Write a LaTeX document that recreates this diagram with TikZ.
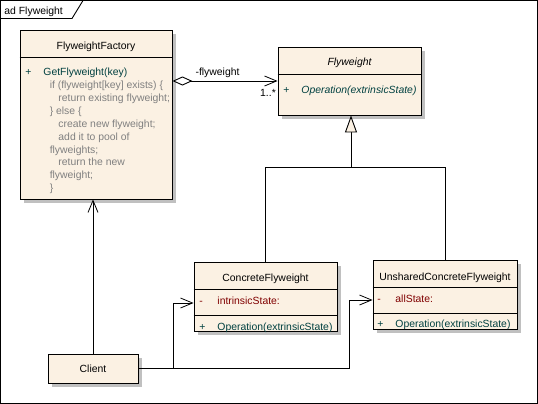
\documentclass[tikz,border=0pt]{standalone}
\usepackage{fontspec}
\setmainfont{Liberation Sans}
\usetikzlibrary{arrows.meta,shadows}
\definecolor{clsfill}{RGB}{251,241,227}
\definecolor{shadowgray}{RGB}{192,192,192}
\definecolor{optext}{RGB}{0,64,64}
\definecolor{attrtext}{RGB}{128,0,0}
\definecolor{codetext}{RGB}{128,128,128}
\begin{document}
\begin{tikzpicture}[x=1pt,y=-1pt,
  font=\fontsize{10.4}{12}\selectfont,
  line width=0.9pt,
  cls/.style={draw=black, fill=clsfill, rectangle, inner sep=0pt, line width=0.9pt,
    drop shadow={shadow xshift=4pt, shadow yshift=-4pt, fill=shadowgray, opacity=1}},
  txt/.style={anchor=base west, inner sep=0pt},
  ctr/.style={anchor=base, inner sep=0pt},
  op/.style={txt, text=optext},
  attr/.style={txt, text=attrtext},
  code/.style={txt, text=codetext},
  assoc/.style={-{Straight Barb[length=12pt,width=10pt,line width=0.8pt]}},
  agg/.style={{Diamond[open,length=20pt,width=9pt,fill=white]}-{Straight Barb[length=12pt,width=10pt,line width=0.8pt]}},
  gen/.style={-{Triangle[open,length=17pt,width=12pt,fill=clsfill]}}]
\useasboundingbox (0,0) rectangle (538,404);
% frame
\draw[line width=0.9pt] (0.5,0.5) rectangle (537,403.5);
\draw[line width=0.9pt] (0.5,18.5) -- (72,18.5) -- (83,0.5);
\node[txt] (title) at (4,14.5) {ad Flyweight};

% FlyweightFactory
\node[cls, minimum width=152pt, minimum height=169pt] (ff) at (96,114.5) {};
\draw (ff.west |- 0,57) -- (ff.east |- 0,57);
\node[ctr] (fft) at (96,49.5) {FlyweightFactory};
\node[op] (ffp) at (25,75.5) {+};
\node[op] (ffo) at (43,75.5) {GetFlyweight(key)};
\node[code] (c1) at (49.3,88.5) {if (flyweight[key] exists) \{};
\node[code] (c2) at (58,101.3) {return existing flyweight;};
\node[code] (c3) at (49.3,114.3) {\} else \{};
\node[code] (c4) at (58,127.2) {create new flyweight;};
\node[code] (c5) at (58,140.1) {add it to pool of};
\node[code] (c6) at (49.3,153) {flyweights;};
\node[code] (c7) at (58,165.9) {return the new};
\node[code] (c8) at (49.3,178.8) {flyweight;};
\node[code] (c9) at (49.3,191.7) {\}};

% Flyweight
\node[cls, minimum width=143pt, minimum height=68pt] (fw) at (349.5,81) {};
\draw (fw.west |- 0,74) -- (fw.east |- 0,74);
\node[ctr] (fwt) at (349.5,66) {\itshape Flyweight};
\node[op] (fwp) at (283,93) {+};
\node[op] (fwo) at (301,93) {\itshape Operation(extrinsicState)};

% ConcreteFlyweight
\node[cls, minimum width=143pt, minimum height=69pt] (cf) at (265.5,296.5) {};
\draw (cf.west |- 0,289) -- (cf.east |- 0,289);
\draw (cf.west |- 0,315) -- (cf.east |- 0,315);
\node[ctr] (cft) at (265.5,281) {ConcreteFlyweight};
\node[attr] (cfm) at (199,304) {-};
\node[attr] (cfa) at (217,304) {intrinsicState:};
\node[op] (cfp) at (199,330) {+};
\node[op] (cfo) at (217,330) {Operation(extrinsicState)};

% UnsharedConcreteFlyweight
\node[cls, minimum width=144pt, minimum height=69pt] (ucf) at (445,294.5) {};
\draw (ucf.west |- 0,287) -- (ucf.east |- 0,287);
\draw (ucf.west |- 0,313) -- (ucf.east |- 0,313);
\node[ctr] (ucft) at (445,280) {UnsharedConcreteFlyweight};
\node[attr] (ucfm) at (377,302) {-};
\node[attr] (ucfa) at (395,302) {allState:};
\node[op] (ucfp) at (377,327) {+};
\node[op] (ucfo) at (395,327) {Operation(extrinsicState)};

% Client
\node[cls, minimum width=90pt, minimum height=29pt] (cl) at (93,368.5) {Client};

% aggregation
\draw[agg] (ff.east |- fw.west) -- (fw.west);
\node[ctr] (aggl) at (217.5,75) {-flyweight};
\node[ctr] (aggm) at (268,96.5) {1..*};

% generalization
\coordinate (J) at (351,167);
\draw (cf.north) |- (J);
\draw (ucf.north) |- (J);
\draw[gen] (J) -- (J |- fw.south);

% client associations
\draw[assoc] (cl.north) -- (cl.north |- ff.south);
\coordinate (k1) at (173,303);
\coordinate (k2) at (349,300);
\draw[assoc] (cl.east) -| (k1) -- (k1 -| cf.west);
\draw[assoc] (cl.east) -| (k2) -- (k2 -| ucf.west);
\end{tikzpicture}
\end{document}
